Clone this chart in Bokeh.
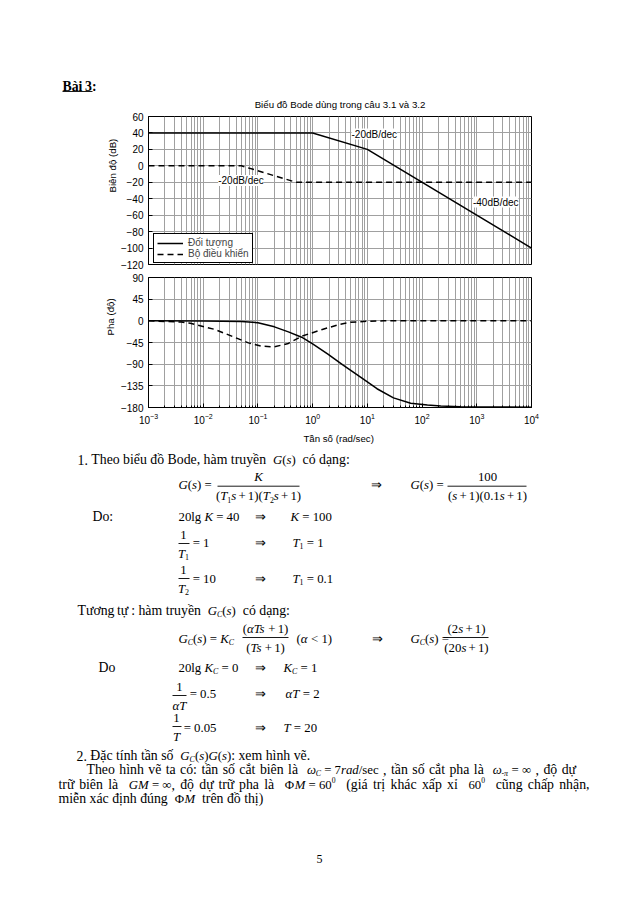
import re
import unicodedata
from bokeh.plotting import figure
from bokeh.models import Range1d, FixedTicker, LogTickFormatter, Label, ColumnDataSource, Title
from bokeh.layouts import column
from bokeh.embed import file_html
from bokeh.resources import INLINE
from bokeh.core.properties import value

# ---------------- chart data ----------------
decades = [1e-3, 1e-2, 1e-1, 1.0, 10.0, 100.0, 1000.0, 10000.0]
mag_ticks = [-120, -100, -80, -60, -40, -20, 0, 20, 40, 60]
phase_ticks = [-180, -135, -90, -45, 0, 45, 90]

plant_mag_w = [1e-3, 1.0, 10.0, 1e4]
plant_mag_db = [40, 40, 20, -100]
ctrl_mag_w = [1e-3, 0.05, 0.5, 1e4]
ctrl_mag_db = [0, 0, -20, -20]

plant_ph_w = [0.001, 0.01, 0.05, 0.1, 0.2, 0.36, 0.63, 1.0, 1.9, 3.5, 7.5, 15, 30, 62, 125, 220, 500, 10000]
plant_ph_deg = [0, -0.5, -1.5, -4, -12.5, -23, -34, -48, -69, -91, -117, -141, -160, -171, -175, -177, -178.5, -179.5]
ctrl_ph_w = [0.001, 0.004, 0.0058, 0.0165, 0.038, 0.067, 0.117, 0.2, 0.36, 0.63, 1.5, 3.2, 4.9, 10, 20, 10000]
ctrl_ph_deg = [0, -2.5, -5, -18, -34.6, -45.8, -52.7, -54, -47, -32, -18, -7, -3, -1, 0, 0]

ann_text = ["-20dB/dec", "-20dB/dec", "-40dB/dec"]
ann_w = [13.4, 0.049, 2220]
ann_db = [38.7, -17.8, -44]

legend_names = ["Đối tượng", "Bộ điều khiển"]

SANS = "Liberation Sans"
SERIF = "Liberation Serif"
GRID = "#a0a0a0"
PAGE_W = 638
minor = [m * d for d in decades[:-1] for m in range(2, 10)]


def bode_fig(height, ylo, yhi, yticks, btop, bbottom, ylabel, yoff, ystand):
    p = figure(width=PAGE_W, height=height, x_axis_type="log",
               x_range=Range1d(1e-3, 1e4), y_range=Range1d(ylo, yhi),
               output_backend="svg", toolbar_location=None,
               min_border_left=148, min_border_right=107,
               min_border_top=btop, min_border_bottom=bbottom)
    xt = FixedTicker(ticks=decades, minor_ticks=minor)
    p.xaxis.ticker = xt
    p.xgrid.ticker = xt
    yt = FixedTicker(ticks=yticks)
    p.yaxis.ticker = yt
    p.ygrid.ticker = yt
    p.xgrid.grid_line_color = GRID
    p.xgrid.minor_grid_line_color = GRID
    p.ygrid.grid_line_color = GRID
    p.xgrid.grid_line_width = 1
    p.ygrid.grid_line_width = 1
    p.outline_line_color = "black"
    p.outline_line_alpha = 1
    p.outline_line_width = 1
    for ax in (p.xaxis, p.yaxis):
        ax.axis_line_color = "black"
        ax.major_tick_in = 4
        ax.major_tick_out = 0
        ax.minor_tick_in = 2
        ax.minor_tick_out = 0
        ax.major_tick_line_color = "black"
        ax.minor_tick_line_color = "black"
        ax.major_label_text_font = SANS
        ax.major_label_text_font_size = "10px"
        ax.major_label_text_color = "black"
        ax.axis_label_text_font = SANS
        ax.axis_label_text_font_size = "9.7px"
        ax.axis_label_text_font_style = "normal"
        ax.axis_label_text_color = "black"
    p.yaxis.major_label_standoff = 5
    p.yaxis.minor_tick_line_color = None
    p.background_fill_color = "white"
    p.border_fill_color = "white"
    p.add_layout(Title(text=ylabel, align="left", offset=yoff, standoff=ystand,
                       text_font=SANS, text_font_size="9.7px", text_font_style="normal",
                       text_color="black"), "left")
    return p


# ---------------- magnitude plot ----------------
mag = bode_fig(160, -120, 60, mag_ticks, 6, 6, "Biên độ (dB)", 72, 0)
mag.xaxis.visible = False
mag.line(plant_mag_w, plant_mag_db, line_color="black", line_width=1.5, legend_label=legend_names[0])
mag.line(ctrl_mag_w, ctrl_mag_db, line_color="black", line_width=1.5, line_dash="6 4",
         legend_label=legend_names[1])
for t, w, d in zip(ann_text, ann_w, ann_db):
    mag.add_layout(Label(x=w, y=d, text=t, text_align="center", text_baseline="middle",
                         text_font=SANS, text_font_size="10px", text_color="black",
                         background_fill_color="white", background_fill_alpha=1))
lg = mag.legend[0]
lg.location = (5, 1)
lg.border_line_color = "black"
lg.border_line_width = 1
lg.border_line_alpha = 1
lg.background_fill_color = "white"
lg.background_fill_alpha = 1
lg.padding = 3
lg.spacing = 0
lg.margin = 0
lg.label_text_font = SANS
lg.label_text_font_size = "10px"
lg.label_height = 10
lg.glyph_height = 10
lg.glyph_width = 26
lg.label_standoff = 5

# ---------------- phase plot ----------------
ph = bode_fig(177, -180, 90, phase_ticks, 7, 40, "Pha (độ)", 72, 4)
ph.xaxis.formatter = LogTickFormatter()
ph.xaxis.major_label_standoff = 5
ph.xaxis.axis_label = "Tần số  (rad/sec)"
ph.xaxis.axis_label_standoff = 6
ph.line(plant_ph_w, plant_ph_deg, line_color="black", line_width=1.5)
ph.line(ctrl_ph_w, ctrl_ph_deg, line_color="black", line_width=1.5, line_dash="6 4")


# ---------------- page text ----------------
def text_fig(y0, y1):
    p = figure(width=PAGE_W, height=y1 - y0, x_range=Range1d(0, PAGE_W), y_range=Range1d(y1, y0),
               output_backend="svg", toolbar_location=None, min_border=0, frame_align=False)
    p.axis.visible = False
    p.grid.visible = False
    p.outline_line_color = None
    return p


W_R = {' ': 250, '!': 333, '(': 333, ')': 333, '+': 564, ',': 250, '-': 333, '.': 250, '/': 278,
       ':': 278, '=': 564, '<': 564, '>': 564, 'A': 722, 'B': 667, 'C': 667, 'D': 722, 'E': 611,
       'F': 556, 'G': 722, 'H': 722, 'I': 333, 'J': 389, 'K': 722, 'L': 611, 'M': 889, 'N': 722,
       'O': 722, 'P': 556, 'Q': 722, 'R': 667, 'S': 556, 'T': 611, 'U': 722, 'V': 722, 'W': 944,
       'X': 722, 'Y': 722, 'Z': 611, 'a': 444, 'b': 500, 'c': 444, 'd': 500, 'e': 444, 'f': 333,
       'g': 500, 'h': 500, 'i': 278, 'j': 278, 'k': 500, 'l': 278, 'm': 778, 'n': 500, 'o': 500,
       'p': 500, 'q': 500, 'r': 333, 's': 389, 't': 278, 'u': 500, 'v': 500, 'w': 722, 'x': 500,
       'y': 500, 'z': 444, '∞': 713, 'Φ': 763, 'α': 550, 'ω': 686, 'π': 549}
W_I = dict(W_R)
W_I.update({'A': 611, 'C': 667, 'G': 722, 'K': 667, 'M': 833, 'T': 556, 's': 389, 'r': 389,
            'a': 500, 'd': 500, 'e': 444})

S = 13.8   # body text size
M = 12.8   # formula size
STY = {  # style: (font_style, size, dy, italic_table)
    'r': ("normal", S, 0.0, False),
    'b': ("bold", S, 0.0, False),
    'mr': ("normal", M, 0.0, False),
    'mi': ("italic", M, 0.0, True),
    'ms': ("normal", M * 0.62, 3.5, False),
    'msi': ("italic", M * 0.62, 3.5, True),
    'mp': ("normal", M * 0.6, -5.0, False),
}


def cw(ch, italic):
    if ch == 'đ':
        base = 'd'
    elif ch == 'Đ':
        base = 'D'
    else:
        base = unicodedata.normalize('NFD', ch)[0]
    if base.isdigit():
        return 500
    tab = W_I if italic else W_R
    return tab.get(base, 500)


def tok_width(t, st):
    fs, size, dy, it = STY[st]
    w = 0.0
    for c in t:
        if c == '~':
            w += 170
        else:
            w += cw(c, it)
    return w / 1000.0 * size


def parts_width(parts):
    return sum(tok_width(t, st) for t, st in parts)


class Page:
    def __init__(self):
        self.d = dict(x=[], y=[], text=[], style=[], size=[])
        self.c = dict(x=[], y=[], text=[], size=[])
        self.seg = dict(x0=[], x1=[], y=[])

    def put(self, x, y, parts, end=None):
        extra = 0.0
        if end is not None:
            nat = parts_width(parts)
            nsp = sum(t.count(' ') for t, st in parts if st == 'r')
            if nsp:
                extra = (end - x - nat) / nsp
        for t, st in parts:
            fs, size, dy, it = STY[st]
            for piece in re.split(r'([ ~])', t):
                if piece == '':
                    continue
                if piece in (' ', '~'):
                    x += tok_width(piece, st) + (extra if (piece == ' ' and st == 'r') else 0)
                    continue
                self.d['x'].append(x)
                self.d['y'].append(y + dy)
                self.d['text'].append(piece)
                self.d['style'].append(fs)
                self.d['size'].append("%.2fpx" % size)
                x += tok_width(piece, st)
        return x

    def frac(self, xc, yb, num, den, x0, x1):
        self.put(xc - parts_width(num) / 2, yb - 9, num)
        self.put(xc - parts_width(den) / 2, yb + 10, den)
        self.seg['x0'].append(x0)
        self.seg['x1'].append(x1)
        self.seg['y'].append(yb)

    def center(self, x, y, t, size):
        self.c['x'].append(x)
        self.c['y'].append(y)
        self.c['text'].append(t)
        self.c['size'].append(size)

    def draw(self, p):
        p.text(x='x', y='y', text='text', source=ColumnDataSource(self.d), text_font=value(SERIF),
               text_font_size='size', text_font_style='style', text_baseline='middle',
               text_align='left', text_color='black')
        p.text(x='x', y='y', text='text', source=ColumnDataSource(self.c), text_font=value(SERIF),
               text_font_size='size', text_baseline='middle', text_align='center', text_color='black')
        p.segment(x0='x0', y0='y', x1='x1', y1='y', source=ColumnDataSource(self.seg),
                  line_color='black', line_width=0.9)


ARROW = "⇒"

# header
head = text_fig(0, 110)
hp = Page()
hp.put(62, 86, [("Bài 3:", 'b')])
hp.seg['x0'].append(62)
hp.seg['x1'].append(92)
hp.seg['y'].append(91)
hp.draw(head)
head.text(x=[339.5], y=[103.5], text=["Biểu đồ Bode dùng trong câu 3.1 và 3.2"],
          text_font=value(SANS), text_font_size="9.7px", text_align="center",
          text_baseline="middle", text_color="black")

# body
body = text_fig(447, 900)
bp = Page()
bp.put(77, 459, [("1. Theo biểu đồ Bode, hàm truyền  ", 'r'), ("G", 'mi'), ("(", 'mr'), ("s", 'mi'),
                 (")", 'mr'), ("  có dạng:", 'r')])
bp.put(178, 484, [("G", 'mi'), ("(", 'mr'), ("s", 'mi'), (") = ", 'mr')])
bp.frac(258, 485.7, [("K", 'mi')],
        [("(", 'mr'), ("T", 'mi'), ("1", 'ms'), ("s", 'mi'), ("~+~1)(", 'mr'), ("T", 'mi'), ("2", 'ms'),
         ("s", 'mi'), ("~+~1)", 'mr')], 217, 299)
bp.center(376, 484, ARROW, "13px")
bp.put(410, 484, [("G", 'mi'), ("(", 'mr'), ("s", 'mi'), (") = ", 'mr')])
bp.frac(487, 485.7, [("100", 'mr')],
        [("(", 'mr'), ("s", 'mi'), ("~+~1)(0.1", 'mr'), ("s", 'mi'), ("~+~1)", 'mr')], 447, 526)

bp.put(92, 516, [("Do:", 'r')])
bp.put(178, 516, [("20lg", 'mr'), (" K", 'mi'), (" = 40", 'mr')])
bp.center(260, 516, ARROW, "13px")
bp.put(290, 516, [("K", 'mi'), (" = 100", 'mr')])

bp.frac(183, 543, [("1", 'mr')], [("T", 'mi'), ("1", 'ms')], 178, 189)
bp.put(190, 542, [("~= 1", 'mr')])
bp.center(260, 542, ARROW, "13px")
bp.put(292, 542, [("T", 'mi'), ("1", 'ms'), (" = 1", 'mr')])

bp.frac(183, 578, [("1", 'mr')], [("T", 'mi'), ("2", 'ms')], 178, 189)
bp.put(190, 578, [("~= 10", 'mr')])
bp.center(260, 578, ARROW, "13px")
bp.put(292, 578, [("T", 'mi'), ("1", 'ms'), (" = 0.1", 'mr')])

bp.put(77, 610, [("Tương tự : hàm truyền  ", 'r'), ("G", 'mi'), ("C", 'msi'), ("(", 'mr'), ("s", 'mi'),
                 (")", 'mr'), ("  có dạng:", 'r')])
bp.put(178, 638, [("G", 'mi'), ("C", 'msi'), ("(", 'mr'), ("s", 'mi'), (") = ", 'mr'), ("K", 'mi'),
                  ("C", 'msi')])
bp.frac(265, 637, [("(", 'mr'), ("αTs", 'mi'), ("~+~1)", 'mr')],
        [("(", 'mr'), ("Ts", 'mi'), ("~+~1)", 'mr')], 242, 288)
bp.put(296, 638, [("(", 'mr'), ("α", 'mi'), (" < 1)", 'mr')])
bp.center(377, 638, ARROW, "13px")
bp.put(410, 638, [("G", 'mi'), ("C", 'msi'), ("(", 'mr'), ("s", 'mi'), (") = ", 'mr')])
bp.frac(466, 637, [("(2", 'mr'), ("s", 'mi'), ("~+~1)", 'mr')],
        [("(20", 'mr'), ("s", 'mi'), ("~+~1)", 'mr')], 443, 488)

bp.put(98, 667, [("Do", 'r')])
bp.put(178, 667, [("20lg", 'mr'), (" K", 'mi'), ("C", 'msi'), (" = 0", 'mr')])
bp.center(260, 667, ARROW, "13px")
bp.put(283, 667, [("K", 'mi'), ("C", 'msi'), (" = 1", 'mr')])

bp.frac(179, 695, [("1", 'mr')], [("αT", 'mi')], 172, 186)
bp.put(187, 693, [("~= 0.5", 'mr')])
bp.center(260, 693, ARROW, "13px")
bp.put(285, 693, [("αT", 'mi'), (" = 2", 'mr')])

bp.frac(176, 726, [("1", 'mr')], [("T", 'mi')], 172, 181)
bp.put(181, 727, [("~= 0.05", 'mr')])
bp.center(260, 727, ARROW, "13px")
bp.put(283, 727, [("T", 'mi'), (" = 20", 'mr')])

bp.put(76, 755, [("2. Đặc tính tần số  ", 'r'), ("G", 'mi'), ("C", 'msi'), ("(", 'mr'), ("s", 'mi'),
                 (")", 'mr'), ("G", 'mi'), ("(", 'mr'), ("s", 'mi'), (")", 'mr'), (": xem hình vẽ.", 'r')])
bp.put(86, 769, [("Theo hình vẽ ta có: tần số cắt biên là  ", 'r'), ("ω", 'mi'), ("C", 'msi'),
                 (" = 7", 'mr'), ("rad", 'mi'), ("/sec", 'mr'), (" , tần số cắt pha là  ", 'r'),
                 ("ω", 'mi'), ("-π", 'msi'), (" = ∞", 'mr'), (" , độ dự", 'r')], end=575)
bp.put(58, 784, [("trữ biên là  ", 'r'), ("GM", 'mi'), (" = ∞", 'mr'), (", độ dự trữ pha là  ", 'r'),
                 ("Φ", 'mr'), ("M", 'mi'), (" = 60", 'mr'), ("0", 'mp'),
                 ("  (giá trị khác xấp xỉ  ", 'r'), ("60", 'mr'), ("0", 'mp'),
                 ("  cũng chấp nhận,", 'r')], end=589)
bp.put(58, 798, [("miễn xác định đúng  ", 'r'), ("Φ", 'mr'), ("M", 'mi'), ("  trên đồ thị)", 'r')])
bp.center(319, 858, "5", "12px")
bp.draw(body)

layout = column(head, mag, ph, body)
open("out.html", "w").write(file_html(layout, INLINE))
